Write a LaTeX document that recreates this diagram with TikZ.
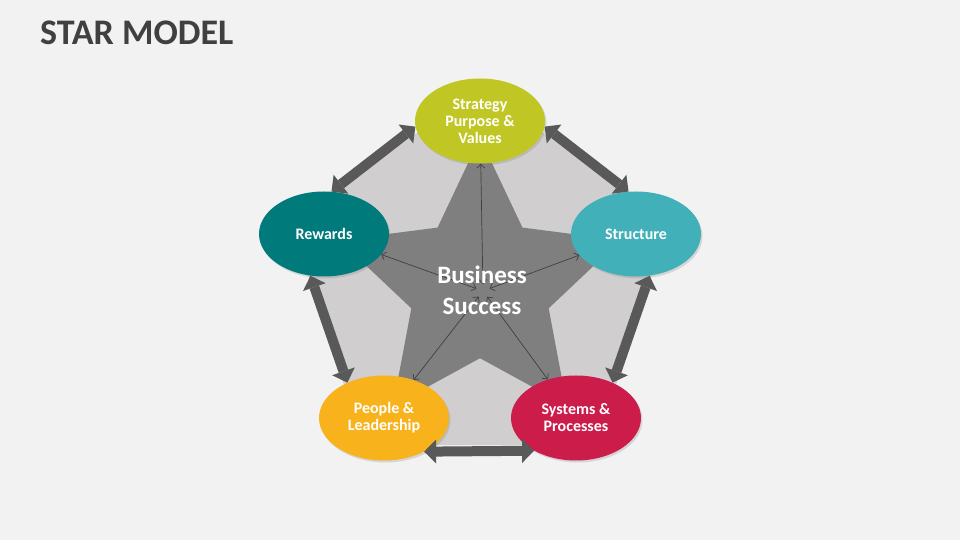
\documentclass[tikz,border=0pt]{standalone}
\usepackage{fontspec}
\setmainfont{Carlito}
\usetikzlibrary{arrows.meta, positioning, shapes.geometric, shadows}
\definecolor{bgGray}{HTML}{F2F2F2}
\definecolor{titleGray}{HTML}{404040}
\definecolor{pentGray}{HTML}{D0CECF}
\definecolor{starGray}{HTML}{7F7F7F}
\definecolor{arrowGray}{HTML}{595959}
\definecolor{stratGreen}{HTML}{C0C724}
\definecolor{structTeal}{HTML}{41B0B8}
\definecolor{rewTeal}{HTML}{007A7A}
\definecolor{peopleYellow}{HTML}{F8B21C}
\definecolor{sysRed}{HTML}{CB1C4A}

\begin{document}
\begin{tikzpicture}[
            x=1pt, y=1pt,
            title/.style={font=\fontsize{36}{40}\selectfont\bfseries, text=titleGray, inner sep=0},
            blob/.style={ellipse, minimum width=130pt, minimum height=85pt, inner sep=0, align=center, text=white,
                font=\fontsize{16}{17}\selectfont\bfseries,
                drop shadow={shadow xshift=1.5pt, shadow yshift=-2pt, opacity=0.25}},
            link/.style={{Triangle[width=24pt,length=12pt,line width=0pt]}-{Triangle[width=24pt,length=12pt,line width=0pt]}, line width=10pt, arrowGray},
            spoke/.style={{Straight Barb[length=4pt,width=8pt]}-{Straight Barb[length=4pt,width=8pt]}, line width=0.7pt, titleGray, shorten <=7pt}
        ]
            \fill[bgGray] (0,0) rectangle (960,540);
            \node[title, anchor=base west] (Title) at (40,495) {STAR MODEL};

            \node[regular polygon, regular polygon sides=5, minimum size=396pt, inner sep=0, fill=pentGray] (pent) at (480,255) {};
            \node[star, star points=5, star point ratio=2.05, minimum size=296pt, inner sep=0, fill=starGray] (core) at (480,254) {};

            \node[blob, fill=stratGreen] (strat) at (480,419) {Strategy\\Purpose \&\\Values};
            \node[blob, fill=rewTeal] (rew) at (324,306) {Rewards};
            \node[blob, fill=structTeal] (struct) at (636,306) {Structure};
            \node[blob, fill=peopleYellow] (people) at (384,122) {People \&\\Leadership};
            \node[blob, fill=sysRed] (sys) at (576,122) {Systems \&\\Processes};

            \draw[link] (strat.185) -- (rew.80);
            \draw[link] (strat.355) -- (struct.100);
            \draw[link] (rew.252) -- (people.136);
            \draw[link] (struct.288) -- (sys.44);
            \draw[link] (people.320) -- (sys.218);

            \coordinate (hub) at (483,249);
            \draw[spoke] (hub) -- (strat);
            \draw[spoke] (hub) -- (rew);
            \draw[spoke] (hub) -- (struct);
            \draw[spoke] (hub) -- (people);
            \draw[spoke] (hub) -- (sys);

            \node[align=center, text=white, font=\fontsize{25}{31}\selectfont\bfseries] (goal) at (482,250) {Business\\Success};
        \end{tikzpicture}
\end{document}
